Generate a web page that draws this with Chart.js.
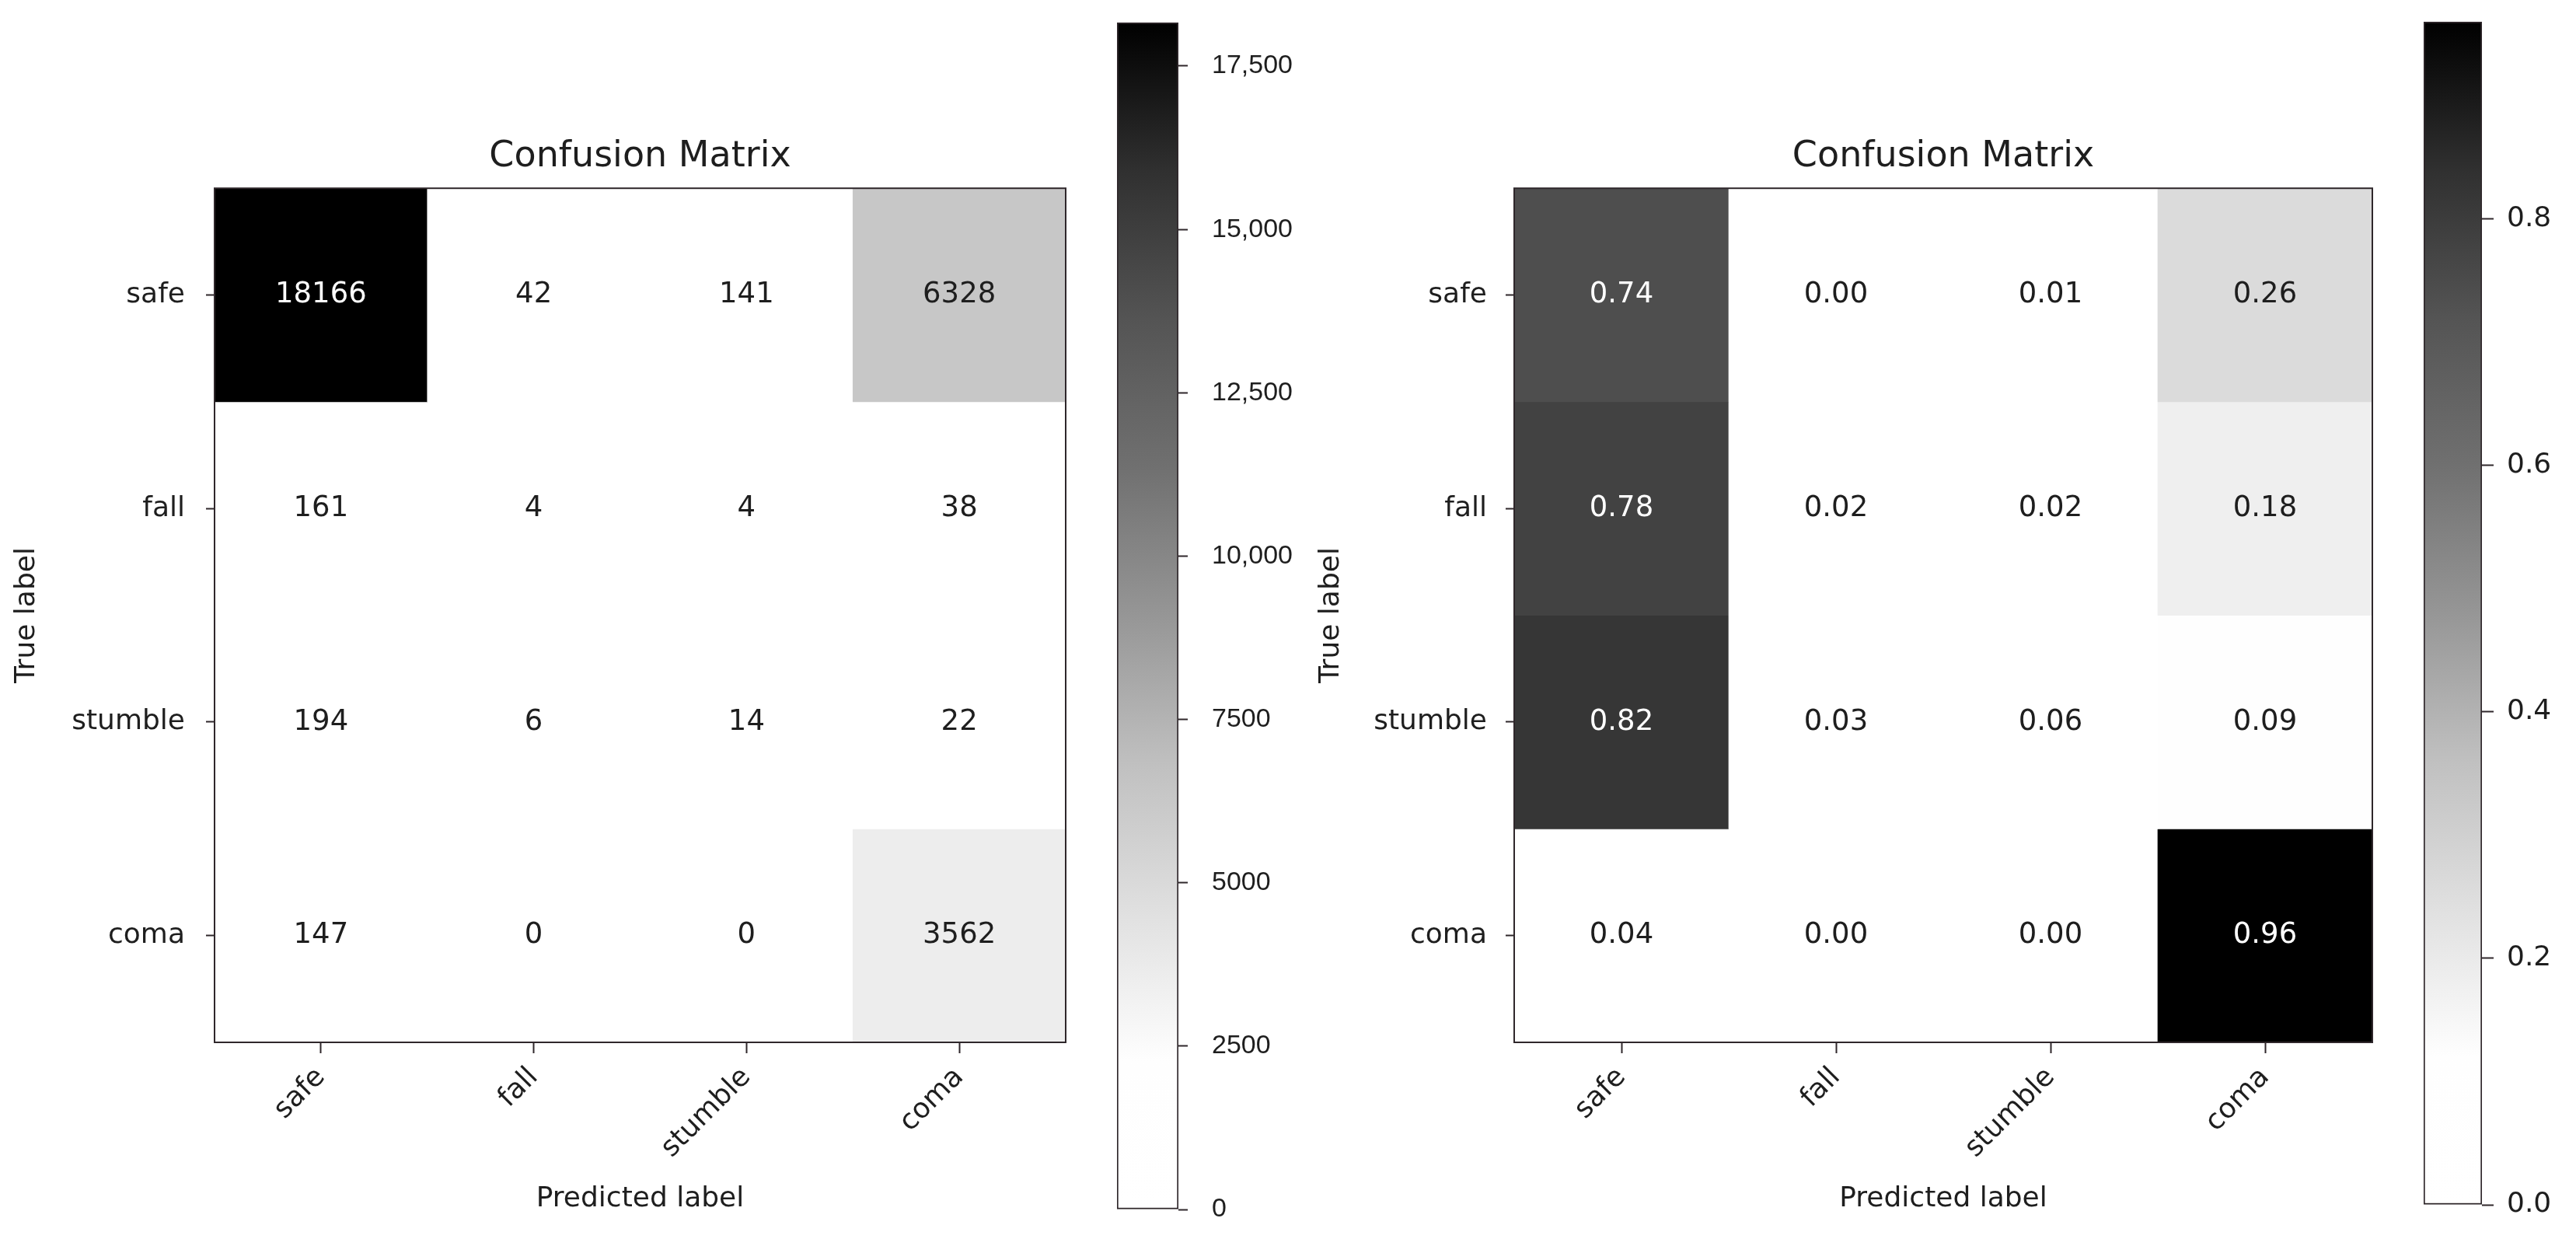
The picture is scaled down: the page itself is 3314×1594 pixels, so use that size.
<!DOCTYPE html>
<html>
<head>
<meta charset="utf-8">
<script src="https://cdn.jsdelivr.net/npm/chart.js@4/dist/chart.umd.min.js"></script>
<style>
html, body { margin: 0; padding: 0; background: #fff; }
body { width: 3314px; height: 1594px; position: relative; overflow: hidden; }
.box { position: absolute; top: 0; }
</style>
</head>
<body>
<div class="box" style="left:0px"><canvas id="countMatrix" width="1420" height="1594"></canvas></div>
<div class="box" style="left:1400px"><canvas id="countBar" width="300" height="1594"></canvas></div>
<div class="box" style="left:1660px"><canvas id="rateMatrix" width="1420" height="1594"></canvas></div>
<div class="box" style="left:3080px"><canvas id="rateBar" width="234" height="1594"></canvas></div>
<script>
// class names (rows = true label, columns = predicted label)
var classes = ['safe', 'fall', 'stumble', 'coma'];

// raw counts, one array per true label
var countSafe = [18166, 42, 141, 6328];
var countFall = [161, 4, 4, 38];
var countStumble = [194, 6, 14, 22];
var countComa = [147, 0, 0, 3562];

// normalised rates, one array per true label
var rateSafe = [0.74, 0.00, 0.01, 0.26];
var rateFall = [0.78, 0.02, 0.02, 0.18];
var rateStumble = [0.82, 0.03, 0.06, 0.09];
var rateComa = [0.04, 0.00, 0.00, 0.96];

// colorbar ticks
var countTicks = [0, 2500, 5000, 7500, 10000, 12500, 15000, 17500];
var countTickLabels = ['0', '2500', '5000', '7500', '10,000', '12,500', '15,000', '17,500'];
var rateTicks = [0, 0.2, 0.4, 0.6, 0.8];
var rateTickLabels = ['0.0', '0.2', '0.4', '0.6', '0.8'];

var countRows = [countSafe, countFall, countStumble, countComa];
var rateRows = [rateSafe, rateFall, rateStumble, rateComa];

// grey colormap, white at the low end
var greyStops = [255, 254, 224, 192, 150, 112, 84, 48, 0];
function greyOf(t) {
    t = Math.max(0, Math.min(1, t));
    var p = t * 8;
    var i = Math.min(7, Math.floor(p));
    var v = Math.round(greyStops[i] + (greyStops[i + 1] - greyStops[i]) * (p - i));
    return 'rgb(' + v + ',' + v + ',' + v + ')';
}

var ink = '#1e1e1e';
var line = '#2f272b';
var fam = "'DejaVu Sans', sans-serif";

function matrixChart(id, rows, fmt, opt) {
    var vmax = Math.max.apply(null, rows.map(function (r) { return Math.max.apply(null, r); }));
    var vmin = Math.min.apply(null, rows.map(function (r) { return Math.min.apply(null, r); }));

    var datasets = rows.map(function (row, r) {
        return {
            label: classes[r],
            data: row.map(function () { return [r - 0.5, r + 0.5]; }),
            values: row,
            backgroundColor: row.map(function (v) { return greyOf(v / vmax); }),
            borderWidth: 0,
            grouped: false,
            categoryPercentage: 1,
            barPercentage: 1
        };
    });

    var cellText = {
        id: 'cellText',
        afterDatasetsDraw: function (chart) {
            var ctx = chart.ctx;
            ctx.save();
            ctx.font = '37px ' + fam;
            ctx.textAlign = 'center';
            ctx.textBaseline = 'middle';
            chart.data.datasets.forEach(function (ds, r) {
                chart.getDatasetMeta(r).data.forEach(function (bar, c) {
                    var v = ds.values[c];
                    ctx.fillStyle = v > (vmax + vmin) / 2 ? '#fff' : ink;
                    ctx.fillText(fmt(v), bar.x, (bar.y + bar.base) / 2);
                });
            });
            // axes frame
            var a = chart.chartArea;
            ctx.strokeStyle = line;
            ctx.lineWidth = 2;
            ctx.strokeRect(a.left, a.top, a.right - a.left, a.bottom - a.top);
            ctx.restore();
        }
    };

    return new Chart(document.getElementById(id), {
        type: 'bar',
        data: { labels: classes, datasets: datasets },
        options: {
            responsive: false,
            animation: false,
            layout: { padding: { left: 0, top: 0, right: opt.padRight, bottom: 0 } },
            plugins: {
                legend: { display: false },
                tooltip: { enabled: false },
                title: {
                    display: true,
                    fullSize: false,
                    text: 'Confusion Matrix',
                    color: ink,
                    font: { family: fam, size: 46, weight: 'normal' },
                    padding: { top: 174, bottom: 13 }
                }
            },
            scales: {
                x: {
                    type: 'category',
                    offset: true,
                    border: { display: false },
                    grid: { display: true, offset: false, drawOnChartArea: false, drawTicks: true, tickLength: 14, tickWidth: 2, tickColor: line },
                    ticks: { color: ink, font: { family: fam, size: 36 }, minRotation: 45, maxRotation: 45, padding: 10 },
                    title: { display: true, text: 'Predicted label', color: ink, font: { family: fam, size: 36 }, padding: { top: 0, bottom: 30 } },
                    afterFit: function (s) { s.height = 253; }
                },
                y: {
                    type: 'linear',
                    min: -0.5,
                    max: 3.5,
                    reverse: true,
                    border: { display: false },
                    afterBuildTicks: function (s) { s.ticks = classes.map(function (c, i) { return { value: i }; }); },
                    grid: { display: true, drawOnChartArea: false, drawTicks: true, tickLength: 11, tickWidth: 2, tickColor: line },
                    ticks: { color: ink, font: { family: fam, size: 36 }, padding: opt.yPad, callback: function (v) { return classes[v]; } },
                    title: { display: true, text: 'True label', color: ink, font: { family: fam, size: 36 }, padding: { top: opt.yTitle, bottom: 0 } },
                    afterFit: function (s) { s.width = opt.yWidth; }
                }
            }
        },
        plugins: [cellText]
    });
}

function colorBar(id, rows, ticks, labels, opt) {
    var vmax = Math.max.apply(null, rows.map(function (r) { return Math.max.apply(null, r); }));
    return new Chart(document.getElementById(id), {
        type: 'bar',
        data: {
            labels: [''],
            datasets: [{
                data: [[0, vmax]],
                backgroundColor: function (c) {
                    var chart = c.chart;
                    if (!chart.chartArea) return '#888';
                    var y = chart.scales.y;
                    var g = chart.ctx.createLinearGradient(0, y.getPixelForValue(0), 0, y.getPixelForValue(vmax));
                    greyStops.forEach(function (v, i) { g.addColorStop(i / 8, 'rgb(' + v + ',' + v + ',' + v + ')'); });
                    return g;
                },
                borderColor: line,
                borderWidth: 2,
                borderSkipped: false,
                categoryPercentage: 1,
                barPercentage: 1
            }]
        },
        options: {
            responsive: false,
            animation: false,
            layout: { padding: { left: opt.left, top: opt.top, right: 0, bottom: opt.bottom } },
            plugins: { legend: { display: false }, tooltip: { enabled: false } },
            scales: {
                x: { display: false },
                y: {
                    position: 'right',
                    min: 0,
                    max: vmax,
                    border: { display: false },
                    afterBuildTicks: function (s) { s.ticks = ticks.map(function (v) { return { value: v }; }); },
                    grid: { display: true, drawOnChartArea: false, drawTicks: true, tickLength: opt.tickLen, tickWidth: 2, tickColor: line },
                    ticks: { color: ink, font: opt.font, padding: opt.pad, callback: function (v, i) { return labels[i]; } },
                    afterFit: function (s) {
                        s.width = opt.width;
                        // keep the bar flush with the layout padding
                        s.paddingTop = 0;
                        s.paddingBottom = 0;
                    }
                }
            }
        }
    });
}

matrixChart('countMatrix', countRows, function (v) { return String(v); },
    { yWidth: 276, yPad: 27, yTitle: 13, padRight: 1420 - 1371 });
colorBar('countBar', countRows, countTicks, countTickLabels,
    { left: 37, top: 29, bottom: 1594 - 1556, width: 300 - 116, tickLen: 12, pad: 31,
      font: { family: "'Liberation Sans', Arial, sans-serif", size: 34 } });

matrixChart('rateMatrix', rateRows, function (v) { return v.toFixed(2); },
    { yWidth: 288, yPad: 24, yTitle: 31, padRight: 1420 - 1392 });
colorBar('rateBar', rateRows, rateTicks, rateTickLabels,
    { left: 38, top: 28, bottom: 1594 - 1550, width: 234 - 113, tickLen: 15, pad: 17,
      font: { family: fam, size: 36 } });
</script>
</body>
</html>
